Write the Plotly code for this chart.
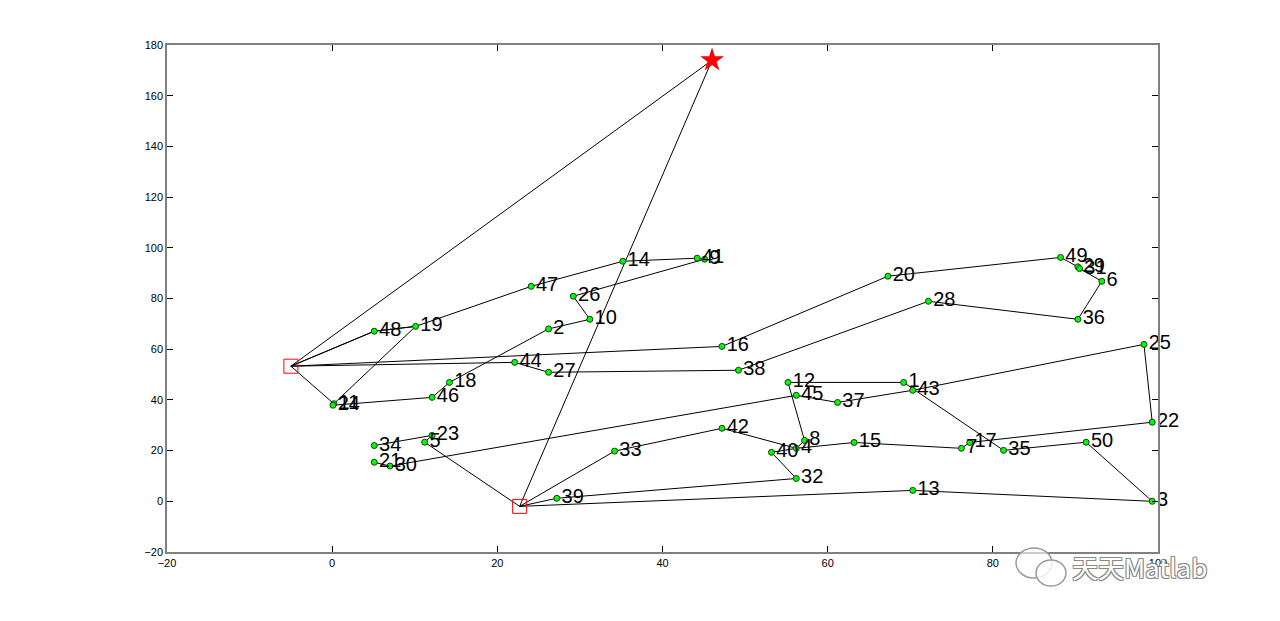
import plotly.graph_objects as go

# ---- data ----
node_ids = list(range(1, 51))
node_x = [69.2, 26.2, 99.3, 56.2, 11.2, 93.2, 76.2, 57.2, 45.1, 31.2,
          0.2, 55.2, 70.3, 35.2, 63.2, 47.2, 77.2, 14.2, 10.1, 67.3,
          5.1, 99.3, 12.1, 0.1, 98.3, 29.2, 26.2, 72.2, 90.3, 7.0,
          90.5, 56.2, 34.2, 5.1, 81.3, 90.3, 61.2, 49.2, 27.2, 53.2,
          44.2, 47.2, 70.3, 22.1, 56.2, 12.1, 24.1, 5.1, 88.2, 91.3]
node_y = [46.9, 68.0, 0.0, 20.9, 23.3, 86.8, 20.9, 24.0, 95.5, 71.8,
          38.5, 46.9, 4.3, 94.7, 23.2, 61.1, 23.2, 46.9, 69.0, 88.8,
          15.4, 31.2, 26.0, 37.9, 61.9, 80.9, 50.9, 78.9, 92.5, 13.9,
          91.8, 9.0, 19.8, 22.0, 20.1, 71.8, 39.0, 51.7, 1.2, 19.3,
          95.9, 28.8, 43.8, 54.8, 41.8, 41.0, 84.8, 67.1, 96.2, 23.3]

depot_names = ["D1", "D2"]
depot_x = [-5.0, 22.7]
depot_y = [53.3, -2.0]
star_x = [46.0]
star_y = [174.0]

routes = [
    ["D1", 48, 19, 47, 14, 41, 9, 26, 10, 2, 18, 46, 24, 11, "D1"],
    ["D1", 48, 19, 11],
    ["D1", 16, 20, 49, 29, 31, 6, 36, 28, 38, 27, 44, "D1"],
    ["D1", "S", "D2"],
    ["D2", 39, 32, 40, 4, 42, 33, "D2"],
    ["D2", 5, 23, 34],
    [21, 30, 45, 37, 43, 25, 22, 17, 7, 15, 4, 8, 12, 1, 35, 50, 3, 13, "D2"],
]

def coord(k):
    if k == "S":
        return star_x[0], star_y[0]
    if isinstance(k, str):
        i = depot_names.index(k)
        return depot_x[i], depot_y[i]
    i = node_ids.index(k)
    return node_x[i], node_y[i]

fig = go.Figure()

for r in routes:
    xs, ys = zip(*[coord(k) for k in r])
    fig.add_trace(go.Scatter(x=xs, y=ys, mode="lines",
                             line=dict(color="black", width=1),
                             hoverinfo="skip", showlegend=False))

fig.add_trace(go.Scatter(
    x=node_x, y=node_y, mode="markers+text",
    text=[str(i) for i in node_ids], textposition="middle right",
    textfont=dict(family="Liberation Sans, Arial", size=20, color="black"),
    marker=dict(symbol="circle", size=6, color="#00ff00",
                line=dict(color="#1a3a1a", width=1)),
    cliponaxis=False, showlegend=False))

fig.add_trace(go.Scatter(
    x=depot_x, y=depot_y, mode="markers",
    marker=dict(symbol="square-open", size=14, color="red", line=dict(width=1)),
    cliponaxis=False, showlegend=False))

fig.add_trace(go.Scatter(
    x=star_x, y=star_y, mode="markers",
    marker=dict(symbol="star", size=18, color="red", line=dict(width=0)),
    cliponaxis=False, showlegend=False))

# page body has an 8px margin, so the figure is sized/placed to compensate
W, H = 1264, 605
OFF = 8
L, R, T, B = 167 - OFF, 1158 - OFF, 45 - OFF, 552 - OFF

def px(xp):
    return (xp - OFF - L) / (R - L)
def py(yp):
    return (B - (yp - OFF)) / (B - T)

fig.add_annotation(x=px(1070), y=py(566), xref="paper", yref="paper",
                   text="天天Matlab", showarrow=False, xanchor="left", yanchor="middle",
                   font=dict(family="Noto Sans CJK SC", size=26, color="white",
                             shadow="-1px -1px 0 #888, 1px -1px 0 #888, -1px 1px 0 #888, 1px 1px 0 #888"))
fig.add_shape(type="circle", xref="paper", yref="paper",
              x0=px(1016), x1=px(1052), y0=py(578), y1=py(548),
              line=dict(color="#999", width=1.5), fillcolor="rgba(255,255,255,0.6)")
fig.add_shape(type="circle", xref="paper", yref="paper",
              x0=px(1036), x1=px(1066), y0=py(586), y1=py(560),
              line=dict(color="#999", width=1.5), fillcolor="rgba(255,255,255,0.8)")

axis_common = dict(showgrid=False, zeroline=False, showline=True, linecolor="#808080",
                   linewidth=1.5, mirror="ticks", ticks="inside", ticklen=6,
                   tickcolor="black", dtick=20,
                   tickfont=dict(family="Liberation Sans, Arial", size=11, color="black"))

fig.update_xaxes(range=[-20, 100], tick0=-20, **axis_common)
fig.update_yaxes(range=[-20, 180], tick0=-20, **axis_common)

fig.update_layout(width=W, height=H,
                  margin=dict(l=L, r=W - R, t=T, b=H - B, autoexpand=False),
                  plot_bgcolor="white", paper_bgcolor="white")

fig.write_html("out.html")
